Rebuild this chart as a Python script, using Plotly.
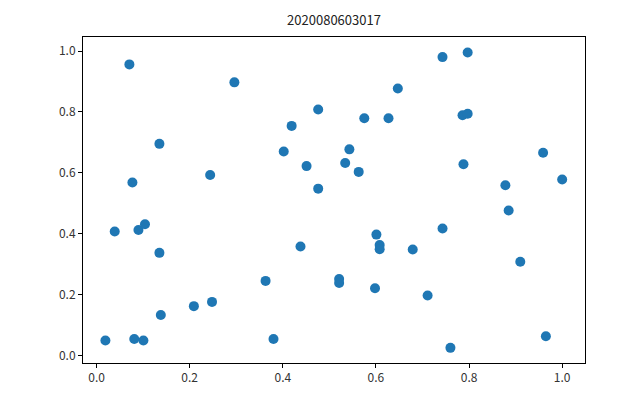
import plotly.graph_objects as go

x_vals = [0.019, 0.039, 0.0705, 0.077, 0.081, 0.090, 0.1006, 0.104, 0.135, 0.135,
          0.138, 0.209, 0.244, 0.248, 0.296, 0.363, 0.380, 0.402, 0.419, 0.438,
          0.451, 0.476, 0.476, 0.521, 0.521, 0.534, 0.543, 0.563, 0.575, 0.598,
          0.601, 0.608, 0.608, 0.627, 0.647, 0.679, 0.711, 0.743, 0.743, 0.760,
          0.786, 0.797, 0.788, 0.797, 0.878, 0.885, 0.910, 0.959, 0.965, 1.000]
y_vals = [0.049, 0.407, 0.956, 0.568, 0.054, 0.412, 0.049, 0.431, 0.695, 0.337,
          0.133, 0.162, 0.593, 0.176, 0.897, 0.245, 0.054, 0.670, 0.754, 0.358,
          0.622, 0.808, 0.548, 0.251, 0.238, 0.632, 0.677, 0.603, 0.779, 0.221,
          0.397, 0.363, 0.349, 0.779, 0.877, 0.348, 0.197, 0.980, 0.417, 0.025,
          0.789, 0.794, 0.628, 0.995, 0.559, 0.476, 0.308, 0.666, 0.063, 0.578]
tick_vals = [0.0, 0.2, 0.4, 0.6, 0.8, 1.0]
tick_text = ["0.0", "0.2", "0.4", "0.6", "0.8", "1.0"]
title_text = "2020080603017"

fig = go.Figure(go.Scatter(
    x=x_vals, y=y_vals, mode="markers",
    marker=dict(color="#1f77b4", size=10, line=dict(width=0)),
))

axis_common = dict(
    showgrid=False, zeroline=False, showline=True, linecolor="black", linewidth=1,
    mirror=True, ticks="outside", ticklen=4, tickcolor="black",
    tickvals=tick_vals, ticktext=tick_text,
    tickfont=dict(family="Noto Sans CJK SC", size=12, color="#333333"),
)

W, H = 620, 394
L, T = 75, 29
PW, PH = 502, 326

fig.update_layout(
    width=W, height=H,
    margin=dict(l=L, r=W - L - PW, t=T, b=H - T - PH),
    plot_bgcolor="white", paper_bgcolor="white",
    showlegend=False,
    title=dict(text=title_text, x=(L + PW / 2) / W, xanchor="center",
               y=1 - 12 / H, yanchor="middle",
               font=dict(family="Noto Sans CJK SC", size=13, color="#222222")),
    xaxis=dict(range=[-0.0291, 1.049], **axis_common),
    yaxis=dict(range=[-0.0247, 1.046], **axis_common),
)

fig.write_html("out.html")
